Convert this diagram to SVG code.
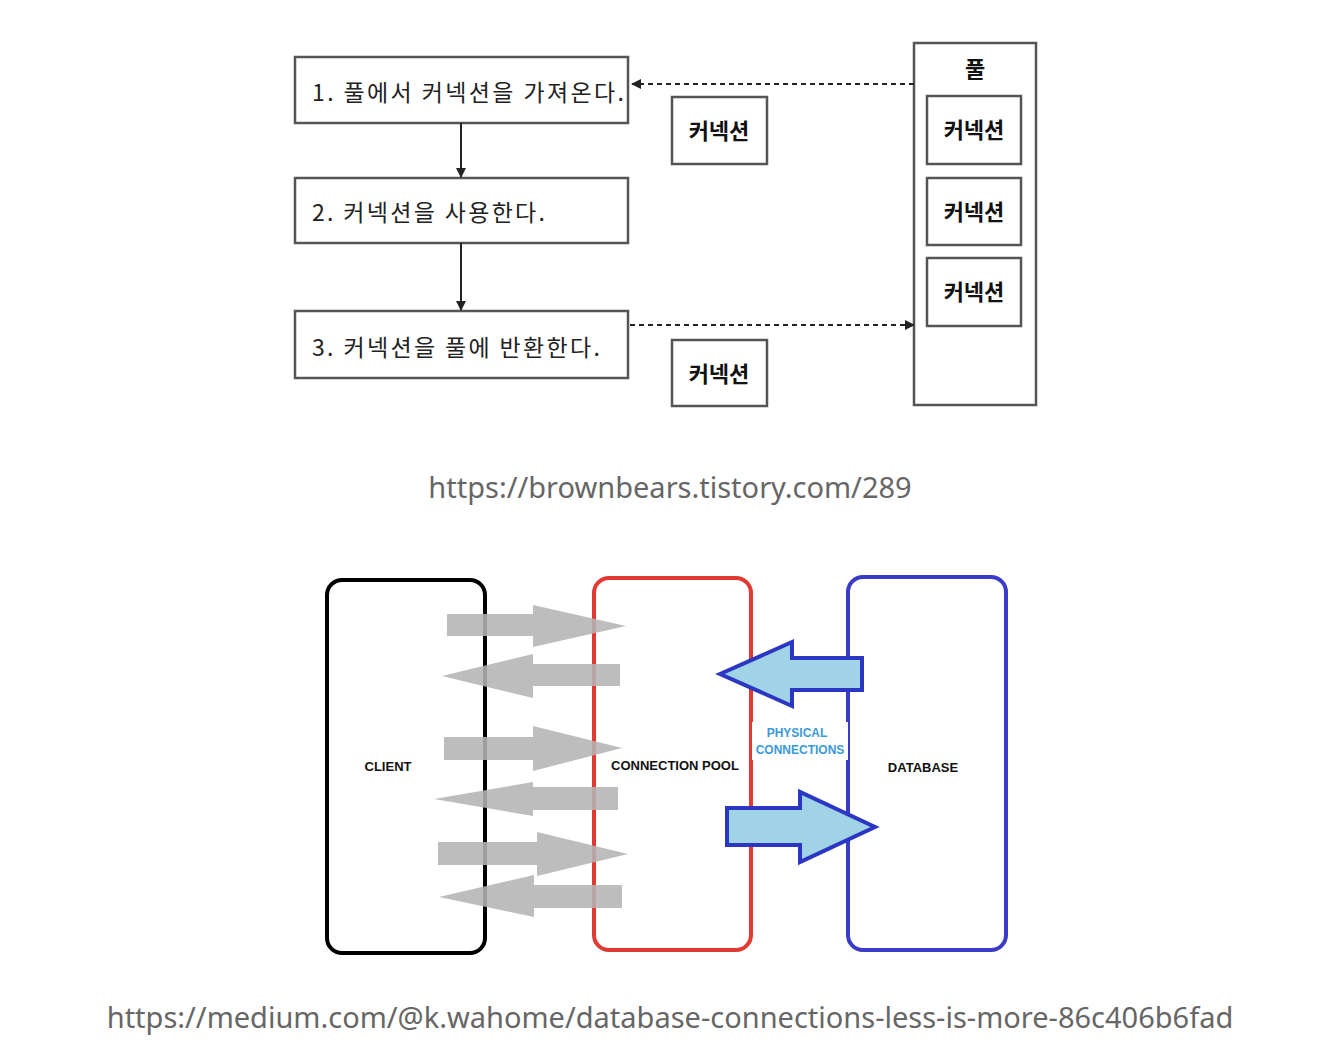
<svg xmlns="http://www.w3.org/2000/svg" width="1324" height="1056" viewBox="0 0 1324 1056">
<style>
.b{fill:#fff;stroke:#555;stroke-width:2.5}
.k{font-family:"Noto Sans CJK KR","Liberation Sans",sans-serif;fill:#222}
.kb{font-family:"Noto Sans CJK KR",sans-serif;font-weight:bold;font-size:22px;fill:#111;text-anchor:middle}
.cap{font-family:"Noto Sans","Liberation Sans",sans-serif;font-size:29px;fill:#666;text-anchor:middle}
.g{fill:#b4b4b4;opacity:0.88}
.ba{fill:#9fd3e5;stroke:#2b37c3;stroke-width:4;stroke-linejoin:miter}
.lb{font-family:"Liberation Sans",sans-serif;font-weight:bold;font-size:13px;fill:#111;text-anchor:middle}
</style>
<defs>
<marker id="ah" markerWidth="10" markerHeight="10" refX="9" refY="5" orient="auto" markerUnits="userSpaceOnUse"><path d="M0,0 L10,5 L0,10 z" fill="#222"/></marker>
</defs>
<g id="step1"><rect class="b" x="295" y="57" width="333" height="66"/><text class="k" x="312" y="101" font-size="23" textLength="312" lengthAdjust="spacing">1. 풀에서 커넥션을 가져온다.</text></g>
<g id="step2"><rect class="b" x="295" y="178" width="333" height="65"/><text class="k" x="312" y="221" font-size="23" textLength="233" lengthAdjust="spacing">2. 커넥션을 사용한다.</text></g>
<g id="step3"><rect class="b" x="295" y="311" width="333" height="67"/><text class="k" x="312" y="356" font-size="23" textLength="288" lengthAdjust="spacing">3. 커넥션을 풀에 반환한다.</text></g>
<g id="pool"><rect class="b" x="914" y="43" width="122" height="362"/><text class="kb" x="975" y="77">풀</text></g>
<g id="pc1"><rect class="b" x="927" y="96" width="94" height="68"/><text class="kb" x="974" y="138">커넥션</text></g>
<g id="pc2"><rect class="b" x="927" y="178" width="94" height="67"/><text class="kb" x="974" y="220">커넥션</text></g>
<g id="pc3"><rect class="b" x="927" y="258" width="94" height="68"/><text class="kb" x="974" y="300">커넥션</text></g>
<g id="c1"><rect class="b" x="672" y="97" width="95" height="67"/><text class="kb" x="719" y="139">커넥션</text></g>
<g id="c2"><rect class="b" x="672" y="340" width="95" height="66"/><text class="kb" x="719" y="382">커넥션</text></g>
<g id="connectors" stroke="#222" stroke-width="2" fill="none">
<line x1="461" y1="123" x2="461" y2="177" marker-end="url(#ah)"/>
<line x1="461" y1="243" x2="461" y2="310" marker-end="url(#ah)"/>
<line x1="914" y1="84" x2="632" y2="84" stroke-dasharray="5,4" marker-end="url(#ah)"/>
<line x1="630" y1="325" x2="914" y2="325" stroke-dasharray="5,4" marker-end="url(#ah)"/>
</g>
<text class="cap" x="670" y="498">https://brownbears.tistory.com/289</text>

<g id="client"><rect x="327" y="580" width="158" height="373" rx="15" fill="none" stroke="#000" stroke-width="4"/><text class="lb" x="388" y="771">CLIENT</text></g>
<g id="cpool"><rect x="594" y="578" width="157" height="372" rx="15" fill="none" stroke="#e03a32" stroke-width="4"/><text class="lb" x="675" y="770">CONNECTION POOL</text></g>
<g id="database"><rect x="848" y="577" width="158" height="373" rx="15" fill="none" stroke="#3a3cc8" stroke-width="4"/><text class="lb" x="923" y="772">DATABASE</text></g>
<g id="gray-arrows">
<path class="g" d="M447,614 H533 V605 L626,626 L533,647 V636 H447 Z"/>
<path class="g" d="M442,676 L533,654 V664 H620 V686 H533 V698 Z"/>
<path class="g" d="M444,737 H533 V726 L622,748 L533,771 V760 H444 Z"/>
<path class="g" d="M434,799 L533,782 V787 H618 V810 H533 V816 Z"/>
<path class="g" d="M438,842 H537 V832 L628,854 L537,876 V865 H438 Z"/>
<path class="g" d="M439,897 L534,875 V885 H622 V908 H534 V917 Z"/>
</g>
<g id="physical">
<path class="ba" d="M720,674 L792,642 V658 H862 V690 H792 V706 Z"/>
<path class="ba" d="M727,808 H800 V792 L875,827 L800,862 V845 H727 Z"/>
<rect x="752" y="722" width="96" height="38" fill="#fff"/>
<text x="797" y="737" font-family="Liberation Sans,sans-serif" font-weight="bold" font-size="12" fill="#3a9ad9" text-anchor="middle">PHYSICAL</text>
<text x="800" y="754" font-family="Liberation Sans,sans-serif" font-weight="bold" font-size="12" fill="#3a9ad9" text-anchor="middle">CONNECTIONS</text>
</g>
<text class="cap" x="670" y="1028">https://medium.com/@k.wahome/database-connections-less-is-more-86c406b6fad</text>
</svg>
